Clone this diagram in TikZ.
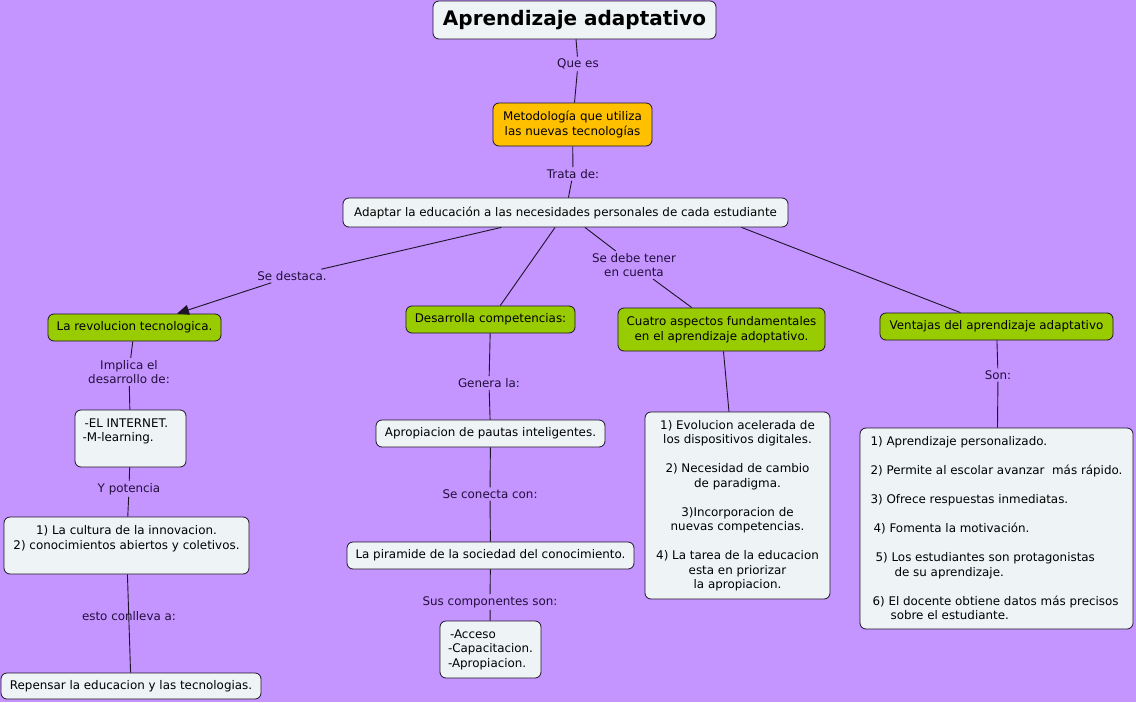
\documentclass[tikz,border=0pt]{standalone}
\usepackage{fontspec}
\setmainfont{DejaVu Sans}
\usetikzlibrary{arrows.meta}
\definecolor{fondo}{RGB}{196,148,255}
\definecolor{cajafondo}{RGB}{238,244,246}
\definecolor{verde}{RGB}{153,204,0}
\definecolor{naranja}{RGB}{255,192,0}
\definecolor{trazo}{RGB}{30,20,40}
\definecolor{etiq}{RGB}{35,15,60}
\begin{document}
\begin{tikzpicture}[x=1pt, y=-1pt,
    concepto/.style={draw=trazo, line width=0.8pt, rounded corners=6pt, fill=cajafondo,
        text=black, inner sep=0pt, align=center, font=\fontsize{11.9}{14.5}\selectfont},
    enlace/.style={text=etiq, inner sep=2pt, align=center, font=\fontsize{11.9}{14.5}\selectfont},
    linea/.style={draw=trazo, line width=0.9pt}]
    % Fondo
    \useasboundingbox (0,0) rectangle (1136,702);
    \fill[fondo] (0,0) rectangle (1136,702);

    % Conceptos principales
    \node[concepto, font=\fontsize{20}{24}\selectfont\bfseries, minimum width=283pt, minimum height=38pt] (titulo) at (574.5,20) {Aprendizaje adaptativo};
    \node[concepto, fill=naranja, minimum width=159pt, minimum height=43pt] (metodo) at (572.5,124.5) {Metodología que utiliza\\ las nuevas tecnologías};
    \node[concepto, minimum width=445pt, minimum height=29pt] (adaptar) at (565.5,212.5) {Adaptar la educación a las necesidades personales de cada estudiante};

    % Ramas
    \node[concepto, fill=verde, minimum width=173pt, minimum height=27pt] (revolucion) at (134.5,327.5) {La revolucion tecnologica.};
    \node[concepto, fill=verde, minimum width=169pt, minimum height=27pt] (competencias) at (490.5,319.5) {Desarrolla competencias:};
    \node[concepto, fill=verde, minimum width=207pt, minimum height=43pt] (aspectos) at (721.5,329.5) {Cuatro aspectos fundamentales\\ en el aprendizaje adoptativo.};
    \node[concepto, fill=verde, minimum width=233pt, minimum height=27pt] (ventajas) at (996.5,326.5) {Ventajas del aprendizaje adaptativo};

    % Columna izquierda
    \node[concepto, minimum width=111pt, minimum height=57pt] (internet) at (130.5,438.5) {\parbox[c][40pt][t]{96pt}{\raggedright\hspace*{2pt}-EL INTERNET.\\-M-learning.}};
    \node[concepto, minimum width=245pt, minimum height=57pt] (cultura) at (126.5,545.5) {\parbox[c][40pt][t]{240pt}{\centering 1) La cultura de la innovacion.\\ 2) conocimientos abiertos y coletivos.}};
    \node[concepto, minimum width=260pt, minimum height=26pt] (repensar) at (131,686) {Repensar la educacion y las tecnologias.};

    % Columna central
    \node[concepto, minimum width=229pt, minimum height=27pt] (pautas) at (490.5,433.5) {Apropiacion de pautas inteligentes.};
    \node[concepto, minimum width=287pt, minimum height=27pt] (piramide) at (490.5,555.5) {La piramide de la sociedad del conocimiento.};
    \node[concepto, align=left, minimum width=101pt, minimum height=57pt] (componentes) at (490.5,649.5) {\hspace*{2pt}-Acceso\\-Capacitacion.\\-Apropiacion.};

    % Listas de la derecha
    \node[concepto, minimum width=185pt, minimum height=187pt] (listaAspectos) at (737.5,505.5) {1) Evolucion acelerada de\\los dispositivos digitales.\\[14.5pt]
        2) Necesidad de cambio\\de paradigma.\\[14.5pt]
        3)Incorporacion de\\nuevas competencias.\\[14.5pt]
        4) La tarea de la educacion\\esta en priorizar\\la apropiacion.};
    \node[concepto, align=left, minimum width=273pt, minimum height=201pt] (listaVentajas) at (996.5,528.5) {1) Aprendizaje personalizado.\\[14.5pt]
        2) Permite al escolar avanzar~ más rápido.\\[14.5pt]
        3) Ofrece respuestas inmediatas.\\[14.5pt]
        \hspace*{3pt}4) Fomenta la motivación.\\[14.5pt]
        \hspace*{5pt}5) Los estudiantes son protagonistas\\
        \hspace*{24pt}de su aprendizaje.\\[14.5pt]
        \hspace*{2pt}6) El docente obtiene datos más precisos\\
        \hspace*{20pt}sobre el estudiante.};

    % Frases de enlace
    \node[enlace] (queEs) at (578,64) {Que es};
    \node[enlace] (trata) at (573,174) {Trata de:};
    \node[enlace] (destaca) at (292,276) {Se destaca.};
    \node[enlace] (tener) at (634,265) {Se debe tener\\ en cuenta};
    \node[enlace] (implica) at (129,372) {Implica el\\desarrollo de:};
    \node[enlace] (potencia) at (129,489) {Y potencia};
    \node[enlace] (conlleva) at (129,616) {esto conlleva a:};
    \node[enlace] (genera) at (489,383) {Genera la:};
    \node[enlace] (conecta) at (490,494) {Se conecta con:};
    \node[enlace] (sus) at (490,602) {Sus componentes son:};
    \node[enlace] (son) at (998,375) {Son:};

    % Conexiones
    \draw[linea] (titulo) -- (queEs);
    \draw[linea] (queEs) -- (metodo);
    \draw[linea] (metodo) -- (trata);
    \draw[linea] (trata) -- (adaptar);
    \draw[linea] (adaptar) -- (destaca);
    \draw[linea, -{Triangle[length=12pt, width=10pt]}] (destaca) -- (revolucion);
    \draw[linea] (adaptar) -- (competencias);
    \draw[linea] (adaptar) -- (tener);
    \draw[linea] (tener) -- (aspectos);
    \draw[linea] ([xshift=176pt]adaptar.south) -- ([xshift=-36pt]ventajas.north);
    \draw[linea] (revolucion) -- (implica);
    \draw[linea] (implica) -- (internet);
    \draw[linea] (internet) -- (potencia);
    \draw[linea] (potencia) -- (cultura);
    \draw[linea] (cultura) -- (repensar);
    \draw[linea] (competencias) -- (genera);
    \draw[linea] (genera) -- (pautas);
    \draw[linea] (pautas) -- (conecta);
    \draw[linea] (conecta) -- (piramide);
    \draw[linea] (piramide) -- (sus);
    \draw[linea] (sus) -- (componentes);
    \draw[linea] (aspectos) -- (listaAspectos);
    \draw[linea] (ventajas) -- (son);
    \draw[linea] (son) -- (listaVentajas);
\end{tikzpicture}
\end{document}
